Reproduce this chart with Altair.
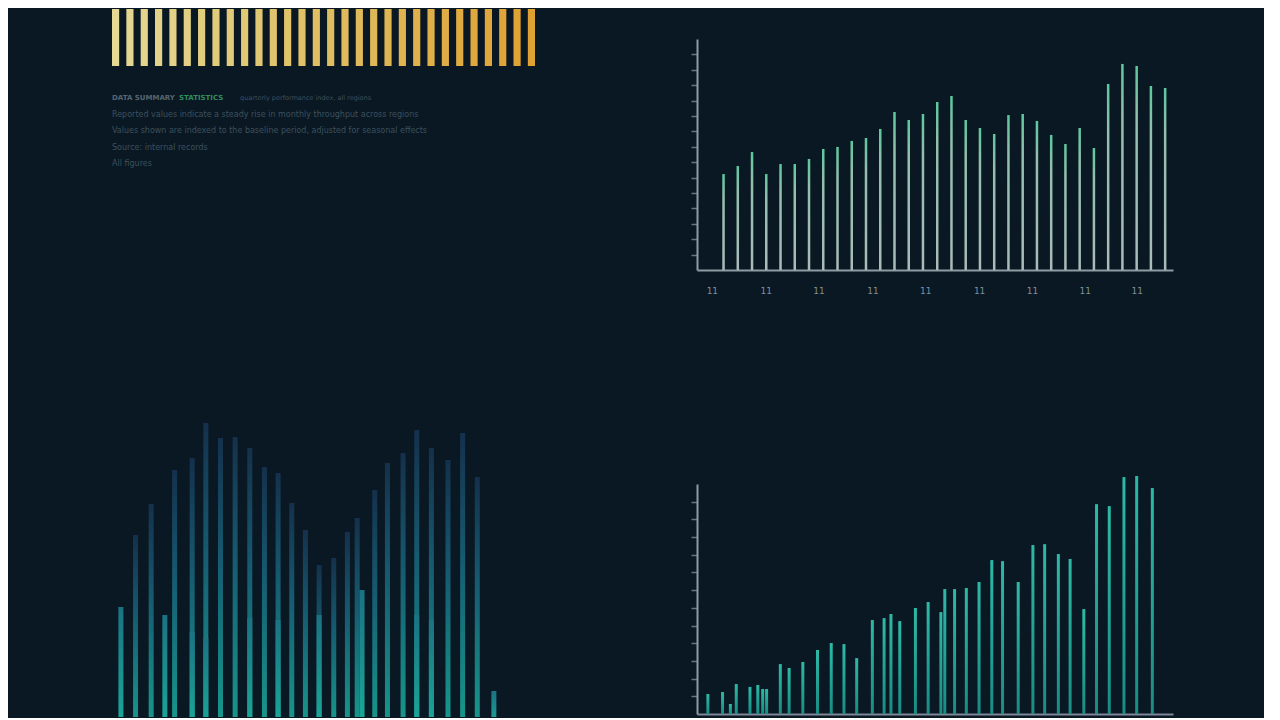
import altair as alt
import pandas as pd

BG = "#0a1823"
AXIS = "#8d9ca3"
TICK = "#66767f"

# ---------------- data ----------------
# top-left: gold stripe bars (all run off the top of the page)
gold_values = [1, 1, 1, 1, 1, 1, 1, 1, 1, 1, 1, 1, 1, 1, 1,
               1, 1, 1, 1, 1, 1, 1, 1, 1, 1, 1, 1, 1, 1, 1]

# text block under the gold bars
text_head = ["DATA SUMMARY", "STATISTICS", "quarterly performance index, all regions"]
text_lines = [
    "Reported values indicate a steady rise in monthly throughput across regions",
    "Values shown are indexed to the baseline period, adjusted for seasonal effects",
    "Source: internal records",
    "All figures",
]

# top-right bar series
tr_values = [6.23, 6.75, 7.66, 6.23, 6.88, 6.88, 7.21, 7.86, 7.99, 8.38, 8.57, 9.16,
             10.26, 9.74, 10.13, 10.91, 11.3, 9.74, 9.22, 8.83, 10.06, 10.13, 9.68,
             8.77, 8.18, 9.22, 7.92, 12.08, 13.38, 13.25, 11.95, 11.82]
tr_tick_pos = [0.18, 3.96, 7.67, 11.45, 15.16, 18.94, 22.65, 26.36, 30.0]
tr_tick_labels = ["11", "11", "11", "11", "11", "11", "11", "11", "11"]
tr_y_ticks = [1, 2, 3, 4, 5, 6, 7, 8, 9, 10, 11, 12, 13, 14]

# bottom-right bar series (day of period, value)
br_days = [9, 24, 32, 38, 52, 60, 65, 69, 83, 92, 106, 121, 135, 148, 161, 177, 189,
           196, 205, 221, 234, 247, 251, 261, 273, 286, 299, 310, 326, 341, 353, 367,
           379, 393, 406, 419, 434, 447, 463]
br_values = [1.13, 1.24, 0.56, 1.69, 1.53, 1.64, 1.41, 1.41, 2.82, 2.6, 2.94, 3.62,
             4.01, 3.95, 3.16, 5.31, 5.42, 5.65, 5.25, 5.99, 6.33, 5.76, 7.06, 7.06,
             7.12, 7.46, 8.7, 8.64, 7.46, 9.55, 9.6, 9.04, 8.76, 5.93, 11.86, 11.75,
             13.39, 13.45, 12.77]
br_y_ticks = [1, 2, 3, 4, 5, 6, 7, 8, 9, 10, 11, 12]

# bottom-left: tall faded bars and short bright bars
bl_tall_pos = [19, 35, 59, 77, 91, 106, 121, 136, 151, 165, 179, 193, 207, 222, 236,
               246, 264, 277, 293, 307, 322, 339, 354, 369]
bl_tall_values = [190, 221, 255, 267, 302, 287, 288, 277, 258, 252, 222, 195, 160, 167,
                  193, 207, 235, 262, 272, 295, 277, 265, 292, 248]
bl_bright_pos = [4, 49, 77, 91, 136, 165, 207, 251, 307, 322, 386]
bl_bright_values = [118, 110, 93, 87, 107, 105, 110, 135, 110, 105, 34]

FONT = "DejaVu Sans"

# ---------------- gold stripes ----------------
gold_df = pd.DataFrame({"i": list(range(1, len(gold_values) + 1)), "v": gold_values})
gold = alt.Chart(gold_df).mark_bar().encode(
    x=alt.X("i:O", axis=None, scale=alt.Scale(paddingInner=0.5, paddingOuter=0)),
    y=alt.Y("v:Q", axis=None, scale=alt.Scale(domain=[0, 1], nice=False)),
    color=alt.Color("i:Q", legend=None,
                    scale=alt.Scale(range=["#e4d894", "#dfa132"])),
).properties(width=423, height=57)

# ---------------- text block ----------------
text_df = pd.DataFrame({"line": [1, 2, 3, 4], "text": text_lines})
head_df = pd.DataFrame({"line": [0], "a": [text_head[0]], "b": [text_head[1]], "c": [text_head[2]]})
ty = alt.Y("line:Q", axis=None,
           scale=alt.Scale(domain=[-1.82, 18.79], nice=False, zero=False, reverse=True))
body = alt.Chart(text_df).mark_text(align="left", baseline="middle", font=FONT,
                                    fontSize=8, color="#3d505d").encode(
    x=alt.value(0), y=ty, text="text:N")
h1 = alt.Chart(head_df).mark_text(align="left", baseline="middle", font=FONT,
                                  fontSize=7, fontWeight="bold", color="#56666f").encode(
    x=alt.value(0), y=ty, text="a:N")
h2 = alt.Chart(head_df).mark_text(align="left", baseline="middle", font=FONT,
                                  fontSize=7, fontWeight="bold", color="#2f8c5f").encode(
    x=alt.value(67), y=ty, text="b:N")
h3 = alt.Chart(head_df).mark_text(align="left", baseline="middle", font=FONT,
                                  fontSize=6.5, color="#3d505d").encode(
    x=alt.value(128), y=ty, text="c:N")
text_panel = alt.layer(body, h1, h2, h3).properties(width=423, height=340)

# ---------------- bottom-left teal bars ----------------
tall_df = pd.DataFrame({"x": bl_tall_pos, "v": bl_tall_values})
bright_df = pd.DataFrame({"x": bl_bright_pos, "v": bl_bright_values})
bx = alt.X("x:Q", axis=None, scale=alt.Scale(domain=[0, 423], nice=False, zero=False))
by = alt.Y("v:Q", axis=None, scale=alt.Scale(domain=[8, 315], nice=False, zero=False))
tall_grad = alt.LinearGradient(
    gradient="linear", x1=0, x2=0, y1=0, y2=1,
    stops=[alt.GradientStop(color="#14304c", offset=0),
           alt.GradientStop(color="#165d72", offset=0.45),
           alt.GradientStop(color="#17998c", offset=1)])
bright_grad = alt.LinearGradient(
    gradient="linear", x1=0, x2=0, y1=0, y2=1,
    stops=[alt.GradientStop(color="#1b7283", offset=0),
           alt.GradientStop(color="#1aa898", offset=1)])
tall = alt.Chart(tall_df).mark_bar(size=5, color=tall_grad, clip=True).encode(x=bx, y=by)
bright = alt.Chart(bright_df).mark_bar(size=5, color=bright_grad, clip=True).encode(x=bx, y=by)
teal = alt.layer(tall, bright).properties(width=423, height=307)

left = alt.vconcat(gold, text_panel, teal, spacing=0)

# ---------------- top-right ----------------
label_expr = " : ".join(
    [f"abs(datum.value - {p}) < 0.01 ? '{l}'" for p, l in zip(tr_tick_pos, tr_tick_labels)]
) + " : ''"
tr_grad = alt.LinearGradient(
    gradient="linear", x1=0, x2=0, y1=0, y2=1,
    stops=[alt.GradientStop(color="#5cc89c", offset=0),
           alt.GradientStop(color="#93bfae", offset=0.25),
           alt.GradientStop(color="#a9bcb8", offset=1)])
tr_df = pd.DataFrame({"i": list(range(1, len(tr_values) + 1)), "v": tr_values})
top_right = alt.Chart(tr_df).mark_bar(size=2.5, color=tr_grad).encode(
    x=alt.X("i:Q", title=None,
            scale=alt.Scale(domain=[-0.512, 32.2], nice=False, zero=False),
            axis=alt.Axis(values=tr_tick_pos, labelExpr=label_expr, ticks=False, grid=False,
                          domainColor=AXIS, domainWidth=2, labelColor="#7f8f9a",
                          labelFont=FONT, labelFontSize=9, labelPadding=16,
                          labelFlush=False, labelOverlap=False,
                          minExtent=26, maxExtent=26)),
    y=alt.Y("v:Q", title=None,
            scale=alt.Scale(domain=[0, 15], nice=False),
            axis=alt.Axis(values=tr_y_ticks, labels=False, grid=False, tickSize=6,
                          tickColor=TICK, tickWidth=1.5, domainColor=AXIS, domainWidth=2,
                          minExtent=8, maxExtent=8)),
).properties(width=476, height=231)

# ---------------- bottom-right ----------------
br_grad = alt.LinearGradient(
    gradient="linear", x1=0, x2=0, y1=0, y2=1,
    stops=[alt.GradientStop(color="#2dbaa6", offset=0),
           alt.GradientStop(color="#188c83", offset=1)])
br_df = pd.DataFrame({"day": br_days, "v": br_values})
bottom_right = alt.Chart(br_df).mark_bar(size=3, color=br_grad, clip=False).encode(
    x=alt.X("day:Q", title=None,
            scale=alt.Scale(domain=[3, 479], nice=False, zero=False),
            axis=alt.Axis(labels=False, ticks=False, grid=False, domainColor="#7f8698",
                          domainWidth=2, minExtent=0, maxExtent=0)),
    y=alt.Y("v:Q", title=None,
            scale=alt.Scale(domain=[0, 13], nice=False),
            axis=alt.Axis(values=br_y_ticks, labels=False, grid=False, tickSize=6,
                          tickColor=TICK, tickWidth=1.5, domainColor=AXIS, domainWidth=2,
                          minExtent=8, maxExtent=8)),
).properties(width=476, height=230)

# empty spacer panel (no marks drawn) that pushes the right column down
spacer_df = pd.DataFrame({"a": [0]})
spacer = alt.Chart(spacer_df).mark_point().encode(
    x=alt.value(0), y=alt.value(0)).transform_filter("false").properties(width=476, height=28)

right = alt.vconcat(spacer, alt.vconcat(top_right, bottom_right, spacing=178), spacing=0)

chart = alt.hconcat(left, right, spacing=152).properties(
    background=BG,
    padding={"left": 103, "top": 0, "right": 90, "bottom": 0},
).configure_view(stroke="transparent")

chart.save("out.html", embed_options={"renderer": "svg", "actions": False})
